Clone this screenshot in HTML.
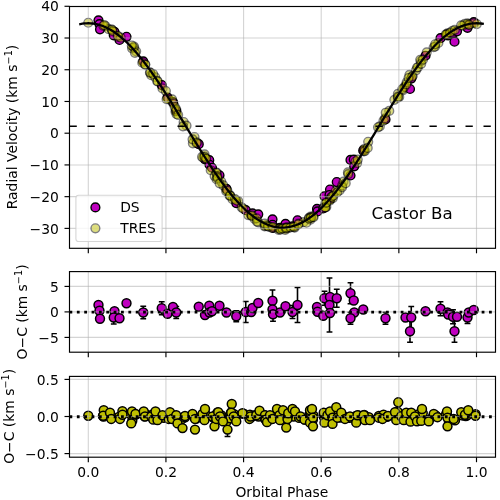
<!DOCTYPE html>
<html lang="en"><head><meta charset="utf-8"><title>Castor Ba radial velocity</title>
<style>
html,body{margin:0;padding:0;background:#fff;width:500px;height:500px;overflow:hidden}
svg{display:block}
.t{font-family:"DejaVu Sans","Liberation Sans",sans-serif;font-size:13.89px;fill:#000}
</style></head><body>
<svg width="500" height="500" viewBox="0 0 500 500">
<rect width="500" height="500" fill="#fff"/>
<defs>
<clipPath id="ctop"><rect x="69.5" y="6.5" width="426.00" height="241.80"/></clipPath>
<clipPath id="cmid"><rect x="69.5" y="271.6" width="426.00" height="80.60"/></clipPath>
<clipPath id="cbot"><rect x="69.5" y="376.4" width="426.00" height="80.80"/></clipPath>
</defs>
<g clip-path="url(#ctop)">
<g fill="#bf00bf" stroke="#000" stroke-width="1.39">
<circle cx="98.50" cy="20.35" r="4.4"/>
<circle cx="99.50" cy="24.21" r="4.4"/>
<circle cx="100.00" cy="29.34" r="4.4"/>
<circle cx="114.50" cy="31.90" r="4.4"/>
<circle cx="113.75" cy="35.29" r="4.4"/>
<circle cx="119.50" cy="39.96" r="4.4"/>
<circle cx="126.50" cy="36.79" r="4.4"/>
<circle cx="143.25" cy="61.44" r="4.4"/>
<circle cx="161.75" cy="85.07" r="4.4"/>
<circle cx="167.50" cy="97.47" r="4.4"/>
<circle cx="173.00" cy="102.09" r="4.4"/>
<circle cx="176.25" cy="110.81" r="4.4"/>
<circle cx="198.75" cy="144.21" r="4.4"/>
<circle cx="205.00" cy="159.30" r="4.4"/>
<circle cx="209.25" cy="160.14" r="4.4"/>
<circle cx="209.50" cy="164.73" r="4.4"/>
<circle cx="212.00" cy="167.74" r="4.4"/>
<circle cx="219.50" cy="175.24" r="4.4"/>
<circle cx="226.50" cy="188.93" r="4.4"/>
<circle cx="236.25" cy="203.10" r="4.4"/>
<circle cx="245.75" cy="210.20" r="4.4"/>
<circle cx="251.25" cy="214.95" r="4.4"/>
<circle cx="252.50" cy="213.44" r="4.4"/>
<circle cx="258.25" cy="214.35" r="4.4"/>
<circle cx="272.50" cy="219.35" r="4.4"/>
<circle cx="272.50" cy="224.79" r="4.4"/>
<circle cx="273.00" cy="227.88" r="4.4"/>
<circle cx="280.00" cy="227.89" r="4.4"/>
<circle cx="285.50" cy="223.95" r="4.4"/>
<circle cx="292.50" cy="226.30" r="4.4"/>
<circle cx="297.50" cy="220.27" r="4.4"/>
<circle cx="317.00" cy="208.94" r="4.4"/>
<circle cx="317.50" cy="211.45" r="4.4"/>
<circle cx="323.25" cy="208.46" r="4.4"/>
<circle cx="324.50" cy="196.29" r="4.4"/>
<circle cx="330.00" cy="189.48" r="4.4"/>
<circle cx="329.50" cy="195.03" r="4.4"/>
<circle cx="330.00" cy="199.43" r="4.4"/>
<circle cx="336.75" cy="182.06" r="4.4"/>
<circle cx="350.50" cy="159.96" r="4.4"/>
<circle cx="353.75" cy="159.62" r="4.4"/>
<circle cx="354.25" cy="166.33" r="4.4"/>
<circle cx="350.50" cy="175.52" r="4.4"/>
<circle cx="363.25" cy="150.42" r="4.4"/>
<circle cx="385.50" cy="119.39" r="4.4"/>
<circle cx="405.50" cy="87.10" r="4.4"/>
<circle cx="411.25" cy="78.61" r="4.4"/>
<circle cx="410.00" cy="88.98" r="4.4"/>
<circle cx="425.50" cy="55.73" r="4.4"/>
<circle cx="440.50" cy="38.15" r="4.4"/>
<circle cx="447.50" cy="34.68" r="4.4"/>
<circle cx="448.25" cy="35.37" r="4.4"/>
<circle cx="453.00" cy="33.57" r="4.4"/>
<circle cx="457.00" cy="31.32" r="4.4"/>
<circle cx="454.50" cy="41.70" r="4.4"/>
<circle cx="467.50" cy="27.82" r="4.4"/>
<circle cx="468.75" cy="24.43" r="4.4"/>
<circle cx="473.75" cy="22.17" r="4.4"/>
</g>
<g fill="#bfbf00" stroke="#000" stroke-width="1.39" opacity="1">
<circle cx="88.25" cy="22.75" r="4.4" opacity="0.5"/>
<circle cx="105.56" cy="26.11" r="4.4" opacity="0.5"/>
<circle cx="103.28" cy="25.87" r="4.4" opacity="0.5"/>
<circle cx="108.65" cy="29.19" r="4.4" opacity="0.5"/>
<circle cx="111.80" cy="29.57" r="4.4" opacity="0.5"/>
<circle cx="118.27" cy="36.90" r="4.4" opacity="0.5"/>
<circle cx="120.75" cy="37.71" r="4.4" opacity="0.5"/>
<circle cx="132.08" cy="48.30" r="4.4" opacity="0.5"/>
<circle cx="134.06" cy="46.55" r="4.4" opacity="0.5"/>
<circle cx="136.16" cy="51.34" r="4.4" opacity="0.5"/>
<circle cx="142.29" cy="62.72" r="4.4" opacity="0.5"/>
<circle cx="145.12" cy="64.47" r="4.4" opacity="0.5"/>
<circle cx="149.93" cy="72.65" r="4.4" opacity="0.5"/>
<circle cx="151.24" cy="75.16" r="4.4" opacity="0.5"/>
<circle cx="155.25" cy="77.25" r="4.4" opacity="0.5"/>
<circle cx="157.58" cy="81.05" r="4.4" opacity="0.5"/>
<circle cx="162.50" cy="88.43" r="4.4" opacity="0.5"/>
<circle cx="168.57" cy="99.32" r="4.4" opacity="0.5"/>
<circle cx="172.13" cy="99.46" r="4.4" opacity="0.5"/>
<circle cx="173.45" cy="103.63" r="4.4" opacity="0.5"/>
<circle cx="175.46" cy="111.50" r="4.4" opacity="0.5"/>
<circle cx="176.60" cy="114.26" r="4.4" opacity="0.5"/>
<circle cx="183.64" cy="122.03" r="4.4" opacity="0.5"/>
<circle cx="186.48" cy="125.71" r="4.4" opacity="0.5"/>
<circle cx="194.46" cy="137.07" r="4.4" opacity="0.5"/>
<circle cx="192.87" cy="143.28" r="4.4" opacity="0.5"/>
<circle cx="196.75" cy="142.25" r="4.4" opacity="0.5"/>
<circle cx="204.55" cy="154.40" r="4.4" opacity="0.5"/>
<circle cx="203.18" cy="157.65" r="4.4" opacity="0.5"/>
<circle cx="205.69" cy="158.13" r="4.4" opacity="0.5"/>
<circle cx="210.74" cy="170.23" r="4.4" opacity="0.5"/>
<circle cx="216.48" cy="172.71" r="4.4" opacity="0.5"/>
<circle cx="214.62" cy="176.10" r="4.4" opacity="0.5"/>
<circle cx="216.55" cy="179.13" r="4.4" opacity="0.5"/>
<circle cx="221.27" cy="181.54" r="4.4" opacity="0.5"/>
<circle cx="223.25" cy="185.32" r="4.4" opacity="0.5"/>
<circle cx="226.18" cy="191.03" r="4.4" opacity="0.5"/>
<circle cx="230.17" cy="195.47" r="4.4" opacity="0.5"/>
<circle cx="229.61" cy="195.72" r="4.4" opacity="0.5"/>
<circle cx="232.52" cy="199.23" r="4.4" opacity="0.5"/>
<circle cx="238.26" cy="201.15" r="4.4" opacity="0.5"/>
<circle cx="241.66" cy="207.29" r="4.4" opacity="0.5"/>
<circle cx="248.26" cy="215.11" r="4.4" opacity="0.5"/>
<circle cx="252.01" cy="215.29" r="4.4" opacity="0.5"/>
<circle cx="254.54" cy="218.80" r="4.4" opacity="0.5"/>
<circle cx="258.28" cy="222.32" r="4.4" opacity="0.5"/>
<circle cx="266.16" cy="225.29" r="4.4" opacity="0.5"/>
<circle cx="264.63" cy="226.28" r="4.4" opacity="0.5"/>
<circle cx="265.25" cy="225.90" r="4.4" opacity="0.5"/>
<circle cx="268.90" cy="226.68" r="4.4" opacity="0.5"/>
<circle cx="271.95" cy="227.91" r="4.4" opacity="0.5"/>
<circle cx="278.96" cy="228.35" r="4.4" opacity="0.5"/>
<circle cx="279.82" cy="228.04" r="4.4" opacity="0.5"/>
<circle cx="278.65" cy="229.87" r="4.4" opacity="0.5"/>
<circle cx="284.74" cy="228.05" r="4.4" opacity="0.5"/>
<circle cx="285.18" cy="229.99" r="4.4" opacity="0.5"/>
<circle cx="288.52" cy="227.80" r="4.4" opacity="0.5"/>
<circle cx="286.95" cy="227.42" r="4.4" opacity="0.5"/>
<circle cx="294.13" cy="227.10" r="4.4" opacity="0.5"/>
<circle cx="294.66" cy="227.56" r="4.4" opacity="0.5"/>
<circle cx="298.53" cy="223.61" r="4.4" opacity="0.5"/>
<circle cx="303.38" cy="222.19" r="4.4" opacity="0.5"/>
<circle cx="308.96" cy="217.93" r="4.4" opacity="0.5"/>
<circle cx="310.41" cy="219.64" r="4.4" opacity="0.5"/>
<circle cx="310.61" cy="216.62" r="4.4" opacity="0.5"/>
<circle cx="311.16" cy="217.31" r="4.4" opacity="0.5"/>
<circle cx="313.25" cy="216.29" r="4.4" opacity="0.5"/>
<circle cx="324.24" cy="207.14" r="4.4" opacity="0.5"/>
<circle cx="326.28" cy="206.95" r="4.4" opacity="0.5"/>
<circle cx="325.44" cy="203.25" r="4.4" opacity="0.5"/>
<circle cx="329.77" cy="200.71" r="4.4" opacity="0.5"/>
<circle cx="331.12" cy="197.33" r="4.4" opacity="0.5"/>
<circle cx="332.81" cy="198.12" r="4.4" opacity="0.5"/>
<circle cx="335.66" cy="191.07" r="4.4" opacity="0.5"/>
<circle cx="339.55" cy="190.42" r="4.4" opacity="0.5"/>
<circle cx="342.07" cy="185.39" r="4.4" opacity="0.5"/>
<circle cx="343.46" cy="181.68" r="4.4" opacity="0.5"/>
<circle cx="347.94" cy="172.39" r="4.4" opacity="0.5"/>
<circle cx="357.11" cy="163.06" r="4.4" opacity="0.5"/>
<circle cx="355.46" cy="161.52" r="4.4" opacity="0.5"/>
<circle cx="363.67" cy="151.38" r="4.4" opacity="0.5"/>
<circle cx="364.23" cy="148.97" r="4.4" opacity="0.5"/>
<circle cx="368.19" cy="141.80" r="4.4" opacity="0.5"/>
<circle cx="379.76" cy="126.39" r="4.4" opacity="0.5"/>
<circle cx="383.51" cy="120.63" r="4.4" opacity="0.5"/>
<circle cx="389.25" cy="110.91" r="4.4" opacity="0.5"/>
<circle cx="394.37" cy="99.83" r="4.4" opacity="0.5"/>
<circle cx="397.96" cy="97.74" r="4.4" opacity="0.5"/>
<circle cx="397.90" cy="93.96" r="4.4" opacity="0.5"/>
<circle cx="402.80" cy="90.31" r="4.4" opacity="0.5"/>
<circle cx="404.28" cy="87.02" r="4.4" opacity="0.5"/>
<circle cx="406.60" cy="82.38" r="4.4" opacity="0.5"/>
<circle cx="409.46" cy="74.90" r="4.4" opacity="0.5"/>
<circle cx="412.61" cy="75.84" r="4.4" opacity="0.5"/>
<circle cx="415.97" cy="70.28" r="4.4" opacity="0.5"/>
<circle cx="418.00" cy="67.30" r="4.4" opacity="0.5"/>
<circle cx="421.00" cy="61.03" r="4.4" opacity="0.5"/>
<circle cx="420.22" cy="59.75" r="4.4" opacity="0.5"/>
<circle cx="426.74" cy="52.33" r="4.4" opacity="0.5"/>
<circle cx="433.67" cy="47.27" r="4.4" opacity="0.5"/>
<circle cx="438.35" cy="42.97" r="4.4" opacity="0.5"/>
<circle cx="447.49" cy="33.46" r="4.4" opacity="0.5"/>
<circle cx="446.46" cy="35.37" r="4.4" opacity="0.5"/>
<circle cx="446.65" cy="34.26" r="4.4" opacity="0.5"/>
<circle cx="452.48" cy="30.84" r="4.4" opacity="0.5"/>
<circle cx="462.98" cy="25.68" r="4.4" opacity="0.5"/>
<circle cx="464.75" cy="23.93" r="4.4" opacity="0.5"/>
<circle cx="467.51" cy="23.38" r="4.4" opacity="0.5"/>
<circle cx="474.21" cy="23.23" r="4.4" opacity="0.5"/>
<circle cx="104.24" cy="25.03" r="4.4" opacity="0.5"/>
<circle cx="112.01" cy="29.81" r="4.4" opacity="0.5"/>
<circle cx="112.65" cy="31.20" r="4.4" opacity="0.5"/>
<circle cx="117.70" cy="35.77" r="4.4" opacity="0.5"/>
<circle cx="133.73" cy="47.52" r="4.4" opacity="0.5"/>
<circle cx="131.82" cy="45.56" r="4.4" opacity="0.5"/>
<circle cx="134.97" cy="52.84" r="4.4" opacity="0.5"/>
<circle cx="145.32" cy="64.60" r="4.4" opacity="0.5"/>
<circle cx="150.31" cy="72.62" r="4.4" opacity="0.5"/>
<circle cx="153.17" cy="73.98" r="4.4" opacity="0.5"/>
<circle cx="157.39" cy="81.45" r="4.4" opacity="0.5"/>
<circle cx="165.87" cy="91.04" r="4.4" opacity="0.5"/>
<circle cx="166.61" cy="99.25" r="4.4" opacity="0.5"/>
<circle cx="174.77" cy="106.93" r="4.4" opacity="0.5"/>
<circle cx="176.26" cy="109.31" r="4.4" opacity="0.5"/>
<circle cx="178.13" cy="114.93" r="4.4" opacity="0.5"/>
<circle cx="182.97" cy="126.36" r="4.4" opacity="0.5"/>
<circle cx="192.57" cy="139.37" r="4.4" opacity="0.5"/>
<circle cx="196.67" cy="143.18" r="4.4" opacity="0.5"/>
<circle cx="202.07" cy="156.92" r="4.4" opacity="0.5"/>
<circle cx="204.51" cy="156.63" r="4.4" opacity="0.5"/>
<circle cx="206.17" cy="158.81" r="4.4" opacity="0.5"/>
<circle cx="216.48" cy="172.92" r="4.4" opacity="0.5"/>
<circle cx="217.27" cy="176.35" r="4.4" opacity="0.5"/>
<circle cx="217.48" cy="177.92" r="4.4" opacity="0.5"/>
<circle cx="219.63" cy="183.34" r="4.4" opacity="0.5"/>
<circle cx="227.33" cy="190.51" r="4.4" opacity="0.5"/>
<circle cx="230.14" cy="195.70" r="4.4" opacity="0.5"/>
<circle cx="234.95" cy="199.00" r="4.4" opacity="0.5"/>
<circle cx="236.21" cy="200.48" r="4.4" opacity="0.5"/>
<circle cx="243.23" cy="208.70" r="4.4" opacity="0.5"/>
<circle cx="251.64" cy="215.95" r="4.4" opacity="0.5"/>
<circle cx="256.64" cy="218.37" r="4.4" opacity="0.5"/>
<circle cx="256.98" cy="221.56" r="4.4" opacity="0.5"/>
<circle cx="264.62" cy="223.62" r="4.4" opacity="0.5"/>
<circle cx="267.90" cy="226.36" r="4.4" opacity="0.5"/>
<circle cx="272.85" cy="226.72" r="4.4" opacity="0.5"/>
<circle cx="279.34" cy="228.75" r="4.4" opacity="0.5"/>
<circle cx="280.52" cy="229.62" r="4.4" opacity="0.5"/>
<circle cx="282.32" cy="228.42" r="4.4" opacity="0.5"/>
<circle cx="286.04" cy="228.61" r="4.4" opacity="0.5"/>
<circle cx="286.34" cy="227.64" r="4.4" opacity="0.5"/>
<circle cx="290.45" cy="227.37" r="4.4" opacity="0.5"/>
<circle cx="293.67" cy="226.72" r="4.4" opacity="0.5"/>
<circle cx="298.37" cy="224.42" r="4.4" opacity="0.5"/>
<circle cx="306.41" cy="222.75" r="4.4" opacity="0.5"/>
<circle cx="308.86" cy="218.66" r="4.4" opacity="0.5"/>
<circle cx="310.85" cy="217.78" r="4.4" opacity="0.5"/>
<circle cx="313.49" cy="217.23" r="4.4" opacity="0.5"/>
<circle cx="325.36" cy="207.46" r="4.4" opacity="0.5"/>
<circle cx="325.20" cy="207.39" r="4.4" opacity="0.5"/>
<circle cx="326.39" cy="202.63" r="4.4" opacity="0.5"/>
<circle cx="331.81" cy="196.67" r="4.4" opacity="0.5"/>
<circle cx="333.30" cy="195.68" r="4.4" opacity="0.5"/>
<circle cx="337.11" cy="192.52" r="4.4" opacity="0.5"/>
<circle cx="342.18" cy="187.11" r="4.4" opacity="0.5"/>
<circle cx="345.68" cy="183.19" r="4.4" opacity="0.5"/>
<circle cx="348.26" cy="174.12" r="4.4" opacity="0.5"/>
<circle cx="357.71" cy="159.59" r="4.4" opacity="0.5"/>
<circle cx="364.81" cy="151.07" r="4.4" opacity="0.5"/>
<circle cx="367.66" cy="147.94" r="4.4" opacity="0.5"/>
<circle cx="378.04" cy="127.31" r="4.4" opacity="0.5"/>
<circle cx="385.03" cy="118.27" r="4.4" opacity="0.5"/>
<circle cx="385.77" cy="112.72" r="4.4" opacity="0.5"/>
<circle cx="399.20" cy="96.90" r="4.4" opacity="0.5"/>
<circle cx="397.92" cy="96.70" r="4.4" opacity="0.5"/>
<circle cx="402.32" cy="89.05" r="4.4" opacity="0.5"/>
<circle cx="406.45" cy="84.28" r="4.4" opacity="0.5"/>
<circle cx="412.19" cy="76.77" r="4.4" opacity="0.5"/>
<circle cx="408.54" cy="78.00" r="4.4" opacity="0.5"/>
<circle cx="417.06" cy="67.49" r="4.4" opacity="0.5"/>
<circle cx="421.20" cy="63.79" r="4.4" opacity="0.5"/>
<circle cx="422.93" cy="59.70" r="4.4" opacity="0.5"/>
<circle cx="435.05" cy="46.53" r="4.4" opacity="0.5"/>
<circle cx="435.17" cy="44.31" r="4.4" opacity="0.5"/>
<circle cx="445.68" cy="34.51" r="4.4" opacity="0.5"/>
<circle cx="450.10" cy="32.59" r="4.4" opacity="0.5"/>
<circle cx="454.88" cy="29.85" r="4.4" opacity="0.5"/>
<circle cx="461.17" cy="25.42" r="4.4" opacity="0.5"/>
<circle cx="469.05" cy="25.03" r="4.4" opacity="0.5"/>
<circle cx="476.77" cy="24.07" r="4.4" opacity="0.5"/>
</g>
</g>
<g stroke="#b0b0b0" stroke-opacity="0.55" stroke-width="1.11" fill="none">
<path d="M88.30 6.5V248.3"/>
<path d="M165.94 6.5V248.3"/>
<path d="M243.58 6.5V248.3"/>
<path d="M321.22 6.5V248.3"/>
<path d="M398.86 6.5V248.3"/>
<path d="M476.50 6.5V248.3"/>
<path d="M69.5 38.01H495.5"/>
<path d="M69.5 69.74H495.5"/>
<path d="M69.5 101.47H495.5"/>
<path d="M69.5 133.20H495.5"/>
<path d="M69.5 164.93H495.5"/>
<path d="M69.5 196.66H495.5"/>
<path d="M69.5 228.39H495.5"/>
</g>
<g clip-path="url(#ctop)">
<path d="M80.34 24.10L82.35 23.73L84.37 23.46L86.38 23.31L88.39 23.26L90.40 23.31L92.41 23.48L94.42 23.76L96.44 24.14L98.45 24.63L100.46 25.23L102.47 25.93L104.48 26.74L106.50 27.65L108.51 28.67L110.52 29.79L112.53 31.01L114.54 32.33L116.56 33.75L118.57 35.27L120.58 36.89L122.59 38.59L124.60 40.39L126.61 42.28L128.63 44.26L130.64 46.32L132.65 48.47L134.66 50.70L136.67 53.00L138.69 55.39L140.70 57.85L142.71 60.38L144.72 62.98L146.73 65.64L148.74 68.37L150.76 71.16L152.77 74.01L154.78 76.91L156.79 79.86L158.80 82.87L160.82 85.91L162.83 89.00L164.84 92.13L166.85 95.29L168.86 98.48L170.87 101.71L172.89 104.96L174.90 108.23L176.91 111.51L178.92 114.82L180.93 118.13L182.95 121.45L184.96 124.78L186.97 128.10L188.98 131.43L190.99 134.75L193.01 138.05L195.02 141.35L197.03 144.62L199.04 147.88L201.05 151.11L203.06 154.32L205.08 157.50L207.09 160.64L209.10 163.74L211.11 166.80L213.12 169.82L215.14 172.80L217.15 175.72L219.16 178.59L221.17 181.40L223.18 184.15L225.19 186.84L227.21 189.47L229.22 192.03L231.23 194.51L233.24 196.93L235.25 199.27L237.27 201.53L239.28 203.71L241.29 205.80L243.30 207.81L245.31 209.74L247.33 211.57L249.34 213.31L251.35 214.96L253.36 216.52L255.37 217.98L257.38 219.34L259.40 220.60L261.41 221.76L263.42 222.81L265.43 223.77L267.44 224.62L269.46 225.36L271.47 226.00L273.48 226.53L275.49 226.96L277.50 227.28L279.51 227.49L281.53 227.59L283.54 227.58L285.55 227.46L287.56 227.24L289.57 226.91L291.59 226.47L293.60 225.92L295.61 225.27L297.62 224.51L299.63 223.65L301.65 222.68L303.66 221.61L305.67 220.44L307.68 219.16L309.69 217.79L311.70 216.32L313.72 214.75L315.73 213.09L317.74 211.33L319.75 209.49L321.76 207.55L323.78 205.53L325.79 203.42L327.80 201.23L329.81 198.96L331.82 196.61L333.83 194.19L335.85 191.69L337.86 189.13L339.87 186.49L341.88 183.79L343.89 181.03L345.91 178.21L347.92 175.34L349.93 172.41L351.94 169.43L353.95 166.40L355.96 163.33L357.98 160.23L359.99 157.08L362.00 153.90L364.01 150.69L366.02 147.45L368.04 144.19L370.05 140.91L372.06 137.62L374.07 134.31L376.08 130.99L378.10 127.67L380.11 124.34L382.12 121.01L384.13 117.69L386.14 114.38L388.15 111.08L390.17 107.79L392.18 104.53L394.19 101.28L396.20 98.06L398.21 94.87L400.23 91.71L402.24 88.59L404.25 85.51L406.26 82.47L408.27 79.47L410.28 76.53L412.30 73.63L414.31 70.79L416.32 68.01L418.33 65.29L420.34 62.63L422.36 60.04L424.37 57.52L426.38 55.07L428.39 52.70L430.40 50.40L432.42 48.18L434.43 46.04L436.44 43.99L438.45 42.03L440.46 40.15L442.47 38.36L444.49 36.67L446.50 35.07L448.51 33.56L450.52 32.15L452.53 30.85L454.55 29.64L456.56 28.53L458.57 27.53L460.58 26.63L462.59 25.83L464.60 25.14L466.62 24.56L468.63 24.08L470.64 23.71L472.65 23.45L474.66 23.30L476.68 23.26L478.69 23.32L480.70 23.49L482.71 23.77" fill="none" stroke="#000" stroke-width="2.3" stroke-linecap="square" stroke-linejoin="round"/>
<path d="M69.5 126.22H495.5" stroke="#000" stroke-width="1.6" stroke-dasharray="7.3 10.7" fill="none"/>
</g>
<rect x="75.9" y="195.2" width="86.2" height="46.3" rx="2.8" fill="#fff" fill-opacity="0.8" stroke="#ccc" stroke-opacity="0.8" stroke-width="1.11"/>
<circle cx="95.4" cy="207.4" r="4.4" fill="#bf00bf" stroke="#000" stroke-width="1.39"/>
<circle cx="95.4" cy="228.3" r="4.4" fill="#bfbf00" stroke="#000" stroke-width="1.39" opacity="0.5"/>
<text class="t" x="120.2" y="212.3">DS</text>
<text class="t" x="120.2" y="233.2">TRES</text>
<text class="t" x="371.6" y="218.8" style="font-size:16.67px">Castor Ba</text>
<g stroke="#000" stroke-width="1.15" fill="none">
<path d="M88.30 248.3v5.0"/>
<path d="M165.94 248.3v5.0"/>
<path d="M243.58 248.3v5.0"/>
<path d="M321.22 248.3v5.0"/>
<path d="M398.86 248.3v5.0"/>
<path d="M476.50 248.3v5.0"/>
<path d="M69.5 6.28h-5.0"/>
<path d="M69.5 38.01h-5.0"/>
<path d="M69.5 69.74h-5.0"/>
<path d="M69.5 101.47h-5.0"/>
<path d="M69.5 133.20h-5.0"/>
<path d="M69.5 164.93h-5.0"/>
<path d="M69.5 196.66h-5.0"/>
<path d="M69.5 228.39h-5.0"/>
<rect x="69.5" y="6.5" width="426.00" height="241.80" stroke-linejoin="miter"/>
</g>
<g class="t" text-anchor="end">
<text x="58.8" y="11.48">40</text>
<text x="58.8" y="43.21">30</text>
<text x="58.8" y="74.94">20</text>
<text x="58.8" y="106.67">10</text>
<text x="58.8" y="138.40">0</text>
<text x="58.8" y="170.13">−10</text>
<text x="58.8" y="201.86">−20</text>
<text x="58.8" y="233.59">−30</text>
</g>
<g clip-path="url(#cmid)">
<g stroke="#000" stroke-width="1.6" fill="none">
<path d="M113.75 311.00V324.00M110.85 311.00h5.8M110.85 324.00h5.8"/>
<path d="M143.25 306.25V318.75M140.35 306.25h5.8M140.35 318.75h5.8"/>
<path d="M161.75 301.75V314.75M158.85 301.75h5.8M158.85 314.75h5.8"/>
<path d="M176.25 306.50V318.50M173.35 306.50h5.8M173.35 318.50h5.8"/>
<path d="M236.25 310.75V321.75M233.35 310.75h5.8M233.35 321.75h5.8"/>
<path d="M245.75 301.50V322.50M242.85 301.50h5.8M242.85 322.50h5.8"/>
<path d="M272.50 290.00V311.50M269.60 290.00h5.8M269.60 311.50h5.8"/>
<path d="M273.00 307.25V321.25M270.10 307.25h5.8M270.10 321.25h5.8"/>
<path d="M292.50 305.50V318.50M289.60 305.50h5.8M289.60 318.50h5.8"/>
<path d="M297.50 287.50V322.50M294.60 287.50h5.8M294.60 322.50h5.8"/>
<path d="M324.50 291.25V305.25M321.60 291.25h5.8M321.60 305.25h5.8"/>
<path d="M329.50 278.00V332.00M326.60 278.00h5.8M326.60 332.00h5.8"/>
<path d="M336.75 289.25V307.25M333.85 289.25h5.8M333.85 307.25h5.8"/>
<path d="M350.50 282.75V303.75M347.60 282.75h5.8M347.60 303.75h5.8"/>
<path d="M350.50 312.25V324.25M347.60 312.25h5.8M347.60 324.25h5.8"/>
<path d="M385.50 312.25V324.25M382.60 312.25h5.8M382.60 324.25h5.8"/>
<path d="M411.25 306.50V328.50M408.35 306.50h5.8M408.35 328.50h5.8"/>
<path d="M410.00 320.25V342.25M407.10 320.25h5.8M407.10 342.25h5.8"/>
<path d="M440.50 301.75V315.75M437.60 301.75h5.8M437.60 315.75h5.8"/>
<path d="M453.00 309.75V323.75M450.10 309.75h5.8M450.10 323.75h5.8"/>
<path d="M454.50 320.25V342.25M451.60 320.25h5.8M451.60 342.25h5.8"/>
<path d="M467.50 311.50V323.50M464.60 311.50h5.8M464.60 323.50h5.8"/>
</g>
<g fill="#bf00bf" stroke="#000" stroke-width="1.5">
<circle cx="98.50" cy="305.00" r="4.45"/>
<circle cx="99.50" cy="310.75" r="4.45"/>
<circle cx="100.00" cy="318.75" r="4.45"/>
<circle cx="114.50" cy="311.25" r="4.45"/>
<circle cx="113.75" cy="317.50" r="4.45"/>
<circle cx="119.50" cy="318.25" r="4.45"/>
<circle cx="126.50" cy="303.25" r="4.45"/>
<circle cx="143.25" cy="312.50" r="4.45"/>
<circle cx="161.75" cy="308.25" r="4.45"/>
<circle cx="167.50" cy="313.75" r="4.45"/>
<circle cx="173.00" cy="307.00" r="4.45"/>
<circle cx="176.25" cy="312.50" r="4.45"/>
<circle cx="198.75" cy="306.75" r="4.45"/>
<circle cx="205.00" cy="315.00" r="4.45"/>
<circle cx="209.25" cy="305.75" r="4.45"/>
<circle cx="209.50" cy="312.50" r="4.45"/>
<circle cx="212.00" cy="311.25" r="4.45"/>
<circle cx="219.50" cy="305.75" r="4.45"/>
<circle cx="226.50" cy="312.50" r="4.45"/>
<circle cx="236.25" cy="316.25" r="4.45"/>
<circle cx="245.75" cy="312.00" r="4.45"/>
<circle cx="251.25" cy="312.00" r="4.45"/>
<circle cx="252.50" cy="308.00" r="4.45"/>
<circle cx="258.25" cy="303.00" r="4.45"/>
<circle cx="272.50" cy="300.75" r="4.45"/>
<circle cx="272.50" cy="309.50" r="4.45"/>
<circle cx="273.00" cy="314.25" r="4.45"/>
<circle cx="280.00" cy="312.50" r="4.45"/>
<circle cx="285.50" cy="306.25" r="4.45"/>
<circle cx="292.50" cy="312.00" r="4.45"/>
<circle cx="297.50" cy="305.00" r="4.45"/>
<circle cx="317.00" cy="307.00" r="4.45"/>
<circle cx="317.50" cy="311.75" r="4.45"/>
<circle cx="323.25" cy="315.75" r="4.45"/>
<circle cx="324.50" cy="298.25" r="4.45"/>
<circle cx="330.00" cy="297.00" r="4.45"/>
<circle cx="329.50" cy="305.00" r="4.45"/>
<circle cx="330.00" cy="313.00" r="4.45"/>
<circle cx="336.75" cy="298.25" r="4.45"/>
<circle cx="350.50" cy="293.25" r="4.45"/>
<circle cx="353.75" cy="300.50" r="4.45"/>
<circle cx="354.25" cy="312.50" r="4.45"/>
<circle cx="350.50" cy="318.25" r="4.45"/>
<circle cx="363.25" cy="309.50" r="4.45"/>
<circle cx="385.50" cy="318.25" r="4.45"/>
<circle cx="405.50" cy="317.50" r="4.45"/>
<circle cx="411.25" cy="317.50" r="4.45"/>
<circle cx="410.00" cy="331.25" r="4.45"/>
<circle cx="425.50" cy="311.25" r="4.45"/>
<circle cx="440.50" cy="308.75" r="4.45"/>
<circle cx="447.50" cy="312.50" r="4.45"/>
<circle cx="448.25" cy="314.50" r="4.45"/>
<circle cx="453.00" cy="316.75" r="4.45"/>
<circle cx="457.00" cy="316.75" r="4.45"/>
<circle cx="454.50" cy="331.25" r="4.45"/>
<circle cx="467.50" cy="317.50" r="4.45"/>
<circle cx="468.75" cy="312.50" r="4.45"/>
<circle cx="473.75" cy="310.00" r="4.45"/>
</g>
</g>
<g stroke="#b0b0b0" stroke-opacity="0.55" stroke-width="1.11" fill="none">
<path d="M88.30 271.6V352.2"/>
<path d="M165.94 271.6V352.2"/>
<path d="M243.58 271.6V352.2"/>
<path d="M321.22 271.6V352.2"/>
<path d="M398.86 271.6V352.2"/>
<path d="M476.50 271.6V352.2"/>
<path d="M69.5 286.40H495.5"/>
<path d="M69.5 311.90H495.5"/>
<path d="M69.5 337.40H495.5"/>
</g>
<path d="M69.5 312.15H495.5" stroke="#000" stroke-width="2.78" stroke-dasharray="2.78 4.58" fill="none"/>
<g stroke="#000" stroke-width="1.15" fill="none">
<path d="M88.30 352.2v5.0"/>
<path d="M165.94 352.2v5.0"/>
<path d="M243.58 352.2v5.0"/>
<path d="M321.22 352.2v5.0"/>
<path d="M398.86 352.2v5.0"/>
<path d="M476.50 352.2v5.0"/>
<path d="M69.5 286.40h-5.0"/>
<path d="M69.5 311.90h-5.0"/>
<path d="M69.5 337.40h-5.0"/>
<rect x="69.5" y="271.6" width="426.00" height="80.60" stroke-linejoin="miter"/>
</g>
<g class="t" text-anchor="end">
<text x="58.8" y="291.60">5</text>
<text x="58.8" y="317.10">0</text>
<text x="58.8" y="342.60">−5</text>
</g>
<g clip-path="url(#cbot)">
<g stroke="#000" stroke-width="1.6" fill="none">
<path d="M227.50 422.65V436.54M224.60 422.65h5.8M224.60 436.54h5.8"/>
</g>
<g fill="#bfbf00" stroke="#000" stroke-width="1.5">
<circle cx="102.94" cy="416.00" r="4.45"/>
<circle cx="103.57" cy="416.65" r="4.45"/>
<circle cx="110.39" cy="415.15" r="4.45"/>
<circle cx="112.30" cy="417.13" r="4.45"/>
<circle cx="119.25" cy="416.75" r="4.45"/>
<circle cx="122.41" cy="411.09" r="4.45"/>
<circle cx="132.29" cy="420.66" r="4.45"/>
<circle cx="130.91" cy="414.68" r="4.45"/>
<circle cx="135.92" cy="414.52" r="4.45"/>
<circle cx="144.50" cy="416.33" r="4.45"/>
<circle cx="145.53" cy="414.18" r="4.45"/>
<circle cx="151.53" cy="415.51" r="4.45"/>
<circle cx="152.63" cy="414.54" r="4.45"/>
<circle cx="155.42" cy="414.42" r="4.45"/>
<circle cx="158.18" cy="415.90" r="4.45"/>
<circle cx="163.81" cy="417.73" r="4.45"/>
<circle cx="168.42" cy="416.72" r="4.45"/>
<circle cx="171.35" cy="416.75" r="4.45"/>
<circle cx="173.18" cy="416.57" r="4.45"/>
<circle cx="175.37" cy="415.65" r="4.45"/>
<circle cx="178.95" cy="420.49" r="4.45"/>
<circle cx="181.88" cy="419.17" r="4.45"/>
<circle cx="185.02" cy="417.38" r="4.45"/>
<circle cx="192.76" cy="414.83" r="4.45"/>
<circle cx="195.26" cy="418.58" r="4.45"/>
<circle cx="196.33" cy="418.50" r="4.45"/>
<circle cx="203.61" cy="413.53" r="4.45"/>
<circle cx="203.95" cy="414.38" r="4.45"/>
<circle cx="205.62" cy="414.46" r="4.45"/>
<circle cx="212.71" cy="417.19" r="4.45"/>
<circle cx="215.16" cy="418.78" r="4.45"/>
<circle cx="216.48" cy="414.51" r="4.45"/>
<circle cx="217.58" cy="412.54" r="4.45"/>
<circle cx="221.52" cy="415.35" r="4.45"/>
<circle cx="221.72" cy="417.50" r="4.45"/>
<circle cx="226.42" cy="421.88" r="4.45"/>
<circle cx="231.11" cy="412.41" r="4.45"/>
<circle cx="229.83" cy="418.36" r="4.45"/>
<circle cx="234.11" cy="414.22" r="4.45"/>
<circle cx="235.73" cy="417.31" r="4.45"/>
<circle cx="243.68" cy="413.77" r="4.45"/>
<circle cx="251.05" cy="417.44" r="4.45"/>
<circle cx="249.91" cy="414.71" r="4.45"/>
<circle cx="254.79" cy="415.18" r="4.45"/>
<circle cx="258.56" cy="416.48" r="4.45"/>
<circle cx="263.93" cy="415.00" r="4.45"/>
<circle cx="264.08" cy="416.58" r="4.45"/>
<circle cx="268.42" cy="419.15" r="4.45"/>
<circle cx="271.23" cy="417.30" r="4.45"/>
<circle cx="272.56" cy="416.08" r="4.45"/>
<circle cx="277.45" cy="415.82" r="4.45"/>
<circle cx="279.87" cy="417.19" r="4.45"/>
<circle cx="281.37" cy="419.18" r="4.45"/>
<circle cx="283.68" cy="414.69" r="4.45"/>
<circle cx="285.44" cy="421.13" r="4.45"/>
<circle cx="287.57" cy="413.34" r="4.45"/>
<circle cx="288.40" cy="413.98" r="4.45"/>
<circle cx="292.75" cy="414.14" r="4.45"/>
<circle cx="293.51" cy="416.56" r="4.45"/>
<circle cx="299.13" cy="417.88" r="4.45"/>
<circle cx="304.90" cy="419.64" r="4.45"/>
<circle cx="309.54" cy="414.15" r="4.45"/>
<circle cx="310.64" cy="418.37" r="4.45"/>
<circle cx="310.64" cy="414.57" r="4.45"/>
<circle cx="313.55" cy="415.76" r="4.45"/>
<circle cx="312.86" cy="419.72" r="4.45"/>
<circle cx="324.04" cy="415.97" r="4.45"/>
<circle cx="323.92" cy="417.07" r="4.45"/>
<circle cx="327.09" cy="417.15" r="4.45"/>
<circle cx="329.62" cy="415.71" r="4.45"/>
<circle cx="333.35" cy="414.96" r="4.45"/>
<circle cx="333.23" cy="418.39" r="4.45"/>
<circle cx="335.66" cy="413.27" r="4.45"/>
<circle cx="336.69" cy="414.22" r="4.45"/>
<circle cx="340.28" cy="417.48" r="4.45"/>
<circle cx="343.76" cy="416.32" r="4.45"/>
<circle cx="349.45" cy="417.90" r="4.45"/>
<circle cx="356.06" cy="415.92" r="4.45"/>
<circle cx="358.60" cy="415.46" r="4.45"/>
<circle cx="364.22" cy="414.94" r="4.45"/>
<circle cx="366.20" cy="418.61" r="4.45"/>
<circle cx="368.82" cy="417.28" r="4.45"/>
<circle cx="378.84" cy="415.88" r="4.45"/>
<circle cx="383.55" cy="414.72" r="4.45"/>
<circle cx="387.02" cy="416.82" r="4.45"/>
<circle cx="395.44" cy="412.57" r="4.45"/>
<circle cx="397.20" cy="418.04" r="4.45"/>
<circle cx="397.60" cy="411.60" r="4.45"/>
<circle cx="402.16" cy="416.59" r="4.45"/>
<circle cx="403.49" cy="416.24" r="4.45"/>
<circle cx="406.00" cy="418.18" r="4.45"/>
<circle cx="410.18" cy="413.57" r="4.45"/>
<circle cx="408.96" cy="415.18" r="4.45"/>
<circle cx="416.51" cy="417.55" r="4.45"/>
<circle cx="416.80" cy="414.74" r="4.45"/>
<circle cx="420.39" cy="418.87" r="4.45"/>
<circle cx="422.76" cy="413.12" r="4.45"/>
<circle cx="428.81" cy="419.85" r="4.45"/>
<circle cx="433.09" cy="416.32" r="4.45"/>
<circle cx="436.16" cy="415.81" r="4.45"/>
<circle cx="447.28" cy="415.62" r="4.45"/>
<circle cx="446.09" cy="414.22" r="4.45"/>
<circle cx="448.75" cy="420.63" r="4.45"/>
<circle cx="454.98" cy="420.39" r="4.45"/>
<circle cx="462.49" cy="415.43" r="4.45"/>
<circle cx="465.76" cy="416.08" r="4.45"/>
<circle cx="467.23" cy="415.30" r="4.45"/>
<circle cx="475.58" cy="414.18" r="4.45"/>
<circle cx="88.25" cy="415.71" r="4.45"/>
<circle cx="103.75" cy="410.25" r="4.45"/>
<circle cx="103.25" cy="415.71" r="4.45"/>
<circle cx="110.00" cy="412.73" r="4.45"/>
<circle cx="111.25" cy="418.93" r="4.45"/>
<circle cx="120.00" cy="418.93" r="4.45"/>
<circle cx="122.50" cy="414.71" r="4.45"/>
<circle cx="131.25" cy="423.39" r="4.45"/>
<circle cx="132.00" cy="411.49" r="4.45"/>
<circle cx="135.50" cy="413.97" r="4.45"/>
<circle cx="143.75" cy="411.49" r="4.45"/>
<circle cx="145.00" cy="416.45" r="4.45"/>
<circle cx="151.25" cy="416.45" r="4.45"/>
<circle cx="153.25" cy="419.67" r="4.45"/>
<circle cx="155.50" cy="411.49" r="4.45"/>
<circle cx="157.50" cy="420.17" r="4.45"/>
<circle cx="162.50" cy="415.21" r="4.45"/>
<circle cx="168.75" cy="418.93" r="4.45"/>
<circle cx="170.00" cy="412.23" r="4.45"/>
<circle cx="172.00" cy="418.93" r="4.45"/>
<circle cx="176.25" cy="415.21" r="4.45"/>
<circle cx="177.50" cy="423.39" r="4.45"/>
<circle cx="182.50" cy="428.11" r="4.45"/>
<circle cx="185.00" cy="415.95" r="4.45"/>
<circle cx="192.50" cy="413.97" r="4.45"/>
<circle cx="195.00" cy="429.59" r="4.45"/>
<circle cx="195.00" cy="418.93" r="4.45"/>
<circle cx="202.50" cy="413.97" r="4.45"/>
<circle cx="205.00" cy="409.01" r="4.45"/>
<circle cx="204.50" cy="420.17" r="4.45"/>
<circle cx="212.50" cy="416.45" r="4.45"/>
<circle cx="214.50" cy="426.37" r="4.45"/>
<circle cx="216.25" cy="418.93" r="4.45"/>
<circle cx="218.25" cy="412.23" r="4.45"/>
<circle cx="220.00" cy="416.45" r="4.45"/>
<circle cx="223.00" cy="421.41" r="4.45"/>
<circle cx="227.50" cy="429.59" r="4.45"/>
<circle cx="231.75" cy="404.05" r="4.45"/>
<circle cx="231.25" cy="412.73" r="4.45"/>
<circle cx="233.75" cy="416.45" r="4.45"/>
<circle cx="236.25" cy="421.41" r="4.45"/>
<circle cx="242.50" cy="413.23" r="4.45"/>
<circle cx="249.50" cy="418.93" r="4.45"/>
<circle cx="250.50" cy="416.45" r="4.45"/>
<circle cx="256.25" cy="415.21" r="4.45"/>
<circle cx="259.50" cy="410.75" r="4.45"/>
<circle cx="265.00" cy="415.21" r="4.45"/>
<circle cx="265.50" cy="419.67" r="4.45"/>
<circle cx="267.00" cy="422.15" r="4.45"/>
<circle cx="270.00" cy="415.21" r="4.45"/>
<circle cx="272.50" cy="418.93" r="4.45"/>
<circle cx="277.00" cy="409.01" r="4.45"/>
<circle cx="279.50" cy="415.21" r="4.45"/>
<circle cx="280.00" cy="420.17" r="4.45"/>
<circle cx="283.00" cy="410.25" r="4.45"/>
<circle cx="286.25" cy="427.61" r="4.45"/>
<circle cx="287.50" cy="418.93" r="4.45"/>
<circle cx="288.25" cy="413.23" r="4.45"/>
<circle cx="292.50" cy="409.01" r="4.45"/>
<circle cx="295.00" cy="411.49" r="4.45"/>
<circle cx="300.50" cy="416.45" r="4.45"/>
<circle cx="304.50" cy="419.67" r="4.45"/>
<circle cx="310.00" cy="410.25" r="4.45"/>
<circle cx="310.00" cy="422.65" r="4.45"/>
<circle cx="312.00" cy="409.01" r="4.45"/>
<circle cx="313.00" cy="417.69" r="4.45"/>
<circle cx="313.00" cy="426.37" r="4.45"/>
<circle cx="323.75" cy="412.73" r="4.45"/>
<circle cx="324.50" cy="422.65" r="4.45"/>
<circle cx="327.50" cy="415.21" r="4.45"/>
<circle cx="330.00" cy="411.49" r="4.45"/>
<circle cx="332.50" cy="417.69" r="4.45"/>
<circle cx="332.50" cy="423.89" r="4.45"/>
<circle cx="336.25" cy="407.27" r="4.45"/>
<circle cx="337.50" cy="417.69" r="4.45"/>
<circle cx="341.25" cy="412.73" r="4.45"/>
<circle cx="345.00" cy="418.93" r="4.45"/>
<circle cx="350.00" cy="416.45" r="4.45"/>
<circle cx="356.25" cy="422.65" r="4.45"/>
<circle cx="357.50" cy="415.21" r="4.45"/>
<circle cx="363.75" cy="415.21" r="4.45"/>
<circle cx="365.00" cy="420.17" r="4.45"/>
<circle cx="370.00" cy="420.17" r="4.45"/>
<circle cx="378.75" cy="417.69" r="4.45"/>
<circle cx="382.50" cy="418.93" r="4.45"/>
<circle cx="388.00" cy="415.95" r="4.45"/>
<circle cx="395.00" cy="412.23" r="4.45"/>
<circle cx="396.25" cy="420.17" r="4.45"/>
<circle cx="398.25" cy="402.31" r="4.45"/>
<circle cx="401.25" cy="416.20" r="4.45"/>
<circle cx="403.75" cy="420.17" r="4.45"/>
<circle cx="406.25" cy="412.73" r="4.45"/>
<circle cx="411.25" cy="412.73" r="4.45"/>
<circle cx="410.50" cy="421.66" r="4.45"/>
<circle cx="415.00" cy="416.45" r="4.45"/>
<circle cx="417.00" cy="421.41" r="4.45"/>
<circle cx="421.25" cy="420.91" r="4.45"/>
<circle cx="422.00" cy="409.01" r="4.45"/>
<circle cx="428.75" cy="421.41" r="4.45"/>
<circle cx="433.75" cy="413.97" r="4.45"/>
<circle cx="437.50" cy="417.19" r="4.45"/>
<circle cx="447.00" cy="411.49" r="4.45"/>
<circle cx="447.50" cy="417.69" r="4.45"/>
<circle cx="447.50" cy="426.37" r="4.45"/>
<circle cx="453.75" cy="418.93" r="4.45"/>
<circle cx="461.25" cy="412.23" r="4.45"/>
<circle cx="465.00" cy="414.71" r="4.45"/>
<circle cx="468.25" cy="410.25" r="4.45"/>
<circle cx="475.50" cy="415.71" r="4.45"/>
</g>
</g>
<g stroke="#b0b0b0" stroke-opacity="0.55" stroke-width="1.11" fill="none">
<path d="M88.30 376.4V457.2"/>
<path d="M165.94 376.4V457.2"/>
<path d="M243.58 376.4V457.2"/>
<path d="M321.22 376.4V457.2"/>
<path d="M398.86 376.4V457.2"/>
<path d="M476.50 376.4V457.2"/>
<path d="M69.5 379.40H495.5"/>
<path d="M69.5 416.50H495.5"/>
<path d="M69.5 453.60H495.5"/>
</g>
<path d="M69.5 416.75H495.5" stroke="#000" stroke-width="2.78" stroke-dasharray="2.78 4.58" fill="none"/>
<g stroke="#000" stroke-width="1.15" fill="none">
<path d="M88.30 457.2v5.0"/>
<path d="M165.94 457.2v5.0"/>
<path d="M243.58 457.2v5.0"/>
<path d="M321.22 457.2v5.0"/>
<path d="M398.86 457.2v5.0"/>
<path d="M476.50 457.2v5.0"/>
<path d="M69.5 379.40h-5.0"/>
<path d="M69.5 416.50h-5.0"/>
<path d="M69.5 453.60h-5.0"/>
<rect x="69.5" y="376.4" width="426.00" height="80.80" stroke-linejoin="miter"/>
</g>
<g class="t" text-anchor="end">
<text x="58.8" y="384.60">0.5</text>
<text x="58.8" y="421.70">0.0</text>
<text x="58.8" y="458.80">−0.5</text>
</g>
<g class="t" text-anchor="middle">
<text x="88.30" y="477.10">0.0</text>
<text x="165.94" y="477.10">0.2</text>
<text x="243.58" y="477.10">0.4</text>
<text x="321.22" y="477.10">0.6</text>
<text x="398.86" y="477.10">0.8</text>
<text x="476.50" y="477.10">1.0</text>
</g>
<text class="t" text-anchor="middle" x="281.9" y="496.6">Orbital Phase</text>
<text class="t" text-anchor="middle" transform="translate(17.0 127.0) rotate(-90)">Radial Velocity (km s<tspan dy="-5.05" style="font-size:9.72px">−1</tspan><tspan dy="5.05">)</tspan></text>
<text class="t" text-anchor="middle" transform="translate(26.6 311.9) rotate(-90)">O−C (km s<tspan dy="-5.05" style="font-size:9.72px">−1</tspan><tspan dy="5.05">)</tspan></text>
<text class="t" text-anchor="middle" transform="translate(13.6 416.3) rotate(-90)">O−C (km s<tspan dy="-5.05" style="font-size:9.72px">−1</tspan><tspan dy="5.05">)</tspan></text>
</svg>
</body></html>
